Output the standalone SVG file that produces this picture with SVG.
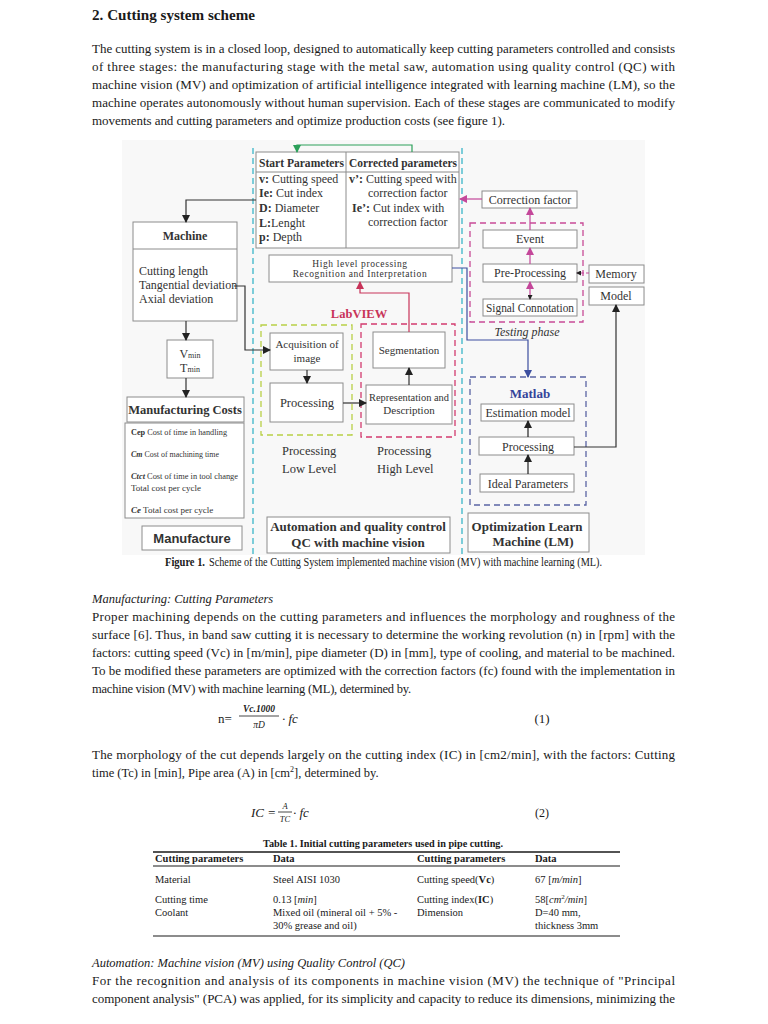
<svg xmlns="http://www.w3.org/2000/svg" width="768" height="1024" viewBox="0 0 768 1024">
<style>
.t{font-family:"Liberation Serif","Times New Roman",serif;font-size:12.5px;fill:#1a1a1a}
.j{font-size:13px}
.b{font-weight:bold}
.i{font-style:italic}
.f{font-family:"Liberation Serif","Times New Roman",serif;font-size:12px;fill:#333}
.fs{font-family:"Liberation Serif","Times New Roman",serif;font-size:11px;fill:#333}
.c{text-anchor:middle}
.box{fill:#fff;stroke:#8c8c8c;stroke-width:1}
.tb{font-family:"Liberation Serif","Times New Roman",serif;font-size:10.5px;fill:#1a1a1a}
.ln{fill:none;stroke-width:1.2}
</style>
<defs>
<marker id="ak" markerWidth="8" markerHeight="8" refX="7" refY="4" orient="auto" markerUnits="userSpaceOnUse"><path d="M0,0 L8,4 L0,8 z" fill="#222"/></marker>
<marker id="am" markerWidth="8" markerHeight="8" refX="7" refY="4" orient="auto" markerUnits="userSpaceOnUse"><path d="M0,0 L8,4 L0,8 z" fill="#c4479a"/></marker>
<marker id="ag" markerWidth="8" markerHeight="8" refX="7" refY="4" orient="auto" markerUnits="userSpaceOnUse"><path d="M0,0 L8,4 L0,8 z" fill="#2ca05a"/></marker>
<marker id="ar" markerWidth="8" markerHeight="8" refX="7" refY="4" orient="auto" markerUnits="userSpaceOnUse"><path d="M0,0 L8,4 L0,8 z" fill="#c8345a"/></marker>
<marker id="ab" markerWidth="8" markerHeight="8" refX="7" refY="4" orient="auto" markerUnits="userSpaceOnUse"><path d="M0,0 L8,4 L0,8 z" fill="#3d4fa0"/></marker>
<marker id="as" markerWidth="5" markerHeight="5" refX="4" refY="2.5" orient="auto-start-reverse" markerUnits="userSpaceOnUse"><path d="M0,0 L5,2.5 L0,5 z" fill="#222"/></marker>
</defs>
<rect width="768" height="1024" fill="#fff"/>

<!-- Heading and first paragraph -->
<text class="t b" x="92" y="20" style="font-size:14px" textLength="163" lengthAdjust="spacingAndGlyphs">2. Cutting system scheme</text>
<text class="t j" x="92" y="53" textLength="583" lengthAdjust="spacing">The cutting system is in a closed loop, designed to automatically keep cutting parameters controlled and consists</text>
<text class="t j" x="92" y="71" textLength="583" lengthAdjust="spacing">of three stages: the manufacturing stage with the metal saw, automation using quality control (QC) with</text>
<text class="t j" x="92" y="89" textLength="583" lengthAdjust="spacing">machine vision (MV) and optimization of artificial intelligence integrated with learning machine (LM), so the</text>
<text class="t j" x="92" y="107" textLength="583" lengthAdjust="spacing">machine operates autonomously without human supervision. Each of these stages are communicated to modify</text>
<text class="t j" x="92" y="125" textLength="413" lengthAdjust="spacing">movements and cutting parameters and optimize production costs (see figure 1).</text>

<!-- Figure background -->
<rect x="122" y="140" width="523" height="415" fill="#f8f8f8"/>

<!-- cyan dashed separators -->
<g stroke="#3ab5c8" stroke-width="1.3" stroke-dasharray="6,4" fill="none">
<line x1="253" y1="148" x2="253" y2="556"/>
<line x1="462" y1="148" x2="462" y2="556"/>
</g>

<!-- dashed group boxes -->
<rect x="261" y="325" width="91" height="110" fill="none" stroke="#b8cf45" stroke-width="1.3" stroke-dasharray="6,4"/>
<rect x="361" y="324" width="94" height="113" fill="none" stroke="#d23a6e" stroke-width="1.3" stroke-dasharray="6,4"/>
<rect x="470" y="223" width="113" height="99" fill="none" stroke="#c74a96" stroke-width="1.3" stroke-dasharray="6,4"/>
<rect x="470" y="377" width="116" height="128" fill="none" stroke="#5a64a4" stroke-width="1.3" stroke-dasharray="6,4"/>

<!-- Nodes -->
<g id="start-parameters">
<rect class="box" x="256" y="152" width="203" height="96"/>
<line x1="256" y1="172" x2="459" y2="172" stroke="#8c8c8c"/>
<line x1="346" y1="152" x2="346" y2="248" stroke="#8c8c8c"/>
<text class="f b" x="259" y="167" textLength="85" lengthAdjust="spacingAndGlyphs">Start Parameters</text>
<text class="f b" x="349" y="167" textLength="108" lengthAdjust="spacingAndGlyphs">Corrected parameters</text>
<text class="f" x="259" y="183"><tspan class="b">v:</tspan> Cutting speed</text>
<text class="f" x="259" y="197"><tspan class="b">Ie:</tspan> Cut index</text>
<text class="f" x="259" y="212"><tspan class="b">D:</tspan> Diameter</text>
<text class="f" x="259" y="227"><tspan class="b">L:</tspan>Lenght</text>
<text class="f" x="259" y="241"><tspan class="b">p:</tspan> Depth</text>
<text class="f" x="349" y="183"><tspan class="b">v’:</tspan> Cutting speed with</text>
<text class="f" x="368" y="197">correction factor</text>
<text class="f" x="352" y="212"><tspan class="b">Ie’:</tspan> Cut index with</text>
<text class="f" x="368" y="226">correction factor</text>
</g>

<g id="machine">
<rect class="box" x="133" y="222" width="104" height="99"/>
<line x1="133" y1="249" x2="237" y2="249" stroke="#8c8c8c"/>
<text class="f b c" x="185" y="240">Machine</text>
<text class="f" x="139" y="275">Cutting length</text>
<text class="f" x="139" y="289">Tangential deviation</text>
<text class="f" x="139" y="303">Axial deviation</text>
</g>

<g id="vmin-tmin">
<rect class="box" x="167" y="340" width="46" height="38"/>
<text class="f c" x="190" y="358">V<tspan style="font-size:8px">min</tspan></text>
<text class="f c" x="190" y="372">T<tspan style="font-size:8px">min</tspan></text>
</g>

<g id="manufacturing-costs">
<rect class="box" x="127" y="397" width="117" height="25"/>
<text class="f b c" x="185" y="414" style="font-size:12.5px">Manufacturing Costs</text>
</g>

<g id="costs-list">
<rect class="box" x="125" y="423" width="119" height="95"/>
<text class="fs" x="131" y="435" style="font-size:9px" textLength="96" lengthAdjust="spacingAndGlyphs"><tspan class="b">Cep</tspan> Cost of time in handling</text>
<text class="fs" x="131" y="457" style="font-size:9px" textLength="88" lengthAdjust="spacingAndGlyphs"><tspan class="b i">Cm</tspan> Cost of machining time</text>
<text class="fs" x="131" y="479" style="font-size:9px" textLength="107" lengthAdjust="spacingAndGlyphs"><tspan class="b i">Ctct</tspan>  Cost of time in tool change</text>
<text class="fs" x="131" y="491" style="font-size:9px">Total cost per cycle</text>
<text class="fs" x="131" y="513" style="font-size:9px"><tspan class="b i">Ce</tspan> Total cost per cycle</text>
</g>

<g id="manufacture">
<rect class="box" x="142" y="526" width="100" height="24"/>
<text class="c" x="192" y="543" style="font-family:'Liberation Sans',Arial,sans-serif;font-size:13px;font-weight:bold;fill:#333">Manufacture</text>
</g>

<g id="automation">
<rect class="box" x="267" y="517" width="183" height="36"/>
<text class="f b c" x="358" y="531" style="font-size:13px">Automation and quality control</text>
<text class="f b c" x="358" y="547" style="font-size:13px">QC with machine vision</text>
</g>

<g id="optimization">
<rect class="box" x="468" y="513" width="121" height="39"/>
<text class="f b c" x="527" y="531" style="font-size:13px">Optimization Learn</text>
<text class="f b c" x="533" y="546" style="font-size:13px">Machine (LM)</text>
</g>

<g id="high-level">
<rect class="box" x="269" y="255" width="183" height="27"/>
<text class="fs c" x="360" y="267" style="font-size:9.5px;letter-spacing:0.6px">High level processing</text>
<text class="fs c" x="360" y="277" style="font-size:9.5px;letter-spacing:0.6px">Recognition and Interpretation</text>
</g>

<text class="c" x="359" y="318" style="font-family:'Liberation Serif','Times New Roman',serif;font-size:12.5px;font-weight:bold;fill:#c8345a">LabVIEW</text>

<g id="acquisition">
<rect class="box" x="270" y="333" width="73" height="37"/>
<text class="fs c" x="307" y="348">Acquisition of</text>
<text class="fs c" x="307" y="362">image</text>
</g>

<g id="processing-low">
<rect class="box" x="270" y="383" width="73" height="39"/>
<text class="f c" x="307" y="407" style="font-size:12.5px">Processing</text>
</g>

<g id="segmentation">
<rect class="box" x="373" y="332" width="72" height="36"/>
<text class="fs c" x="409" y="354">Segmentation</text>
</g>

<g id="representation">
<rect class="box" x="366" y="385" width="86" height="39"/>
<text class="fs c" x="409" y="401" textLength="80" lengthAdjust="spacingAndGlyphs">Representation and</text>
<text class="fs c" x="409" y="414">Description</text>
</g>

<text class="f" x="282" y="455" style="font-size:12.5px">Processing</text>
<text class="f" x="282" y="473" style="font-size:12.5px">Low Level</text>
<text class="f" x="377" y="455" style="font-size:12.5px">Processing</text>
<text class="f" x="377" y="473" style="font-size:12.5px">High Level</text>

<g id="correction-factor">
<rect class="box" x="482" y="191" width="95" height="17"/>
<text class="f c" x="530" y="204">Correction factor</text>
</g>
<g id="event">
<rect class="box" x="483" y="230" width="94" height="18"/>
<text class="f c" x="530" y="243">Event</text>
</g>
<g id="pre-processing">
<rect class="box" x="483" y="264" width="94" height="18"/>
<text class="f c" x="530" y="277">Pre-Processing</text>
</g>
<g id="signal-connotation">
<rect class="box" x="483" y="299" width="94" height="17"/>
<text class="f c" x="530" y="312" textLength="88" lengthAdjust="spacingAndGlyphs">Signal Connotation</text>
</g>
<g id="memory">
<rect class="box" x="589" y="265" width="55" height="18"/>
<text class="f c" x="616" y="278">Memory</text>
</g>
<g id="model">
<rect class="box" x="589" y="287" width="55" height="18"/>
<text class="f c" x="616" y="300">Model</text>
</g>
<text class="f i c" x="527" y="336">Testing phase</text>

<text class="c" x="530" y="398" style="font-family:'Liberation Serif','Times New Roman',serif;font-size:13px;font-weight:bold;fill:#34449a">Matlab</text>
<g id="estimation-model">
<rect class="box" x="481" y="404" width="93" height="17"/>
<text class="f c" x="528" y="417">Estimation model</text>
</g>
<g id="processing-matlab">
<rect class="box" x="479" y="437" width="95" height="18"/>
<text class="f c" x="528" y="451">Processing</text>
</g>
<g id="ideal-parameters">
<rect class="box" x="480" y="474" width="94" height="18"/>
<text class="f c" x="528" y="488">Ideal Parameters</text>
</g>

<!-- Connectors -->
<g id="connectors">
<path class="ln" d="M412,152 V145 H297 V152" stroke="#2ca05a" marker-end="url(#ag)"/>
<path class="ln" d="M256,200 H186 V222" stroke="#333" marker-end="url(#ak)"/>
<path class="ln" d="M234,286 H245 V350 H270" stroke="#333" marker-end="url(#ak)"/>
<path class="ln" d="M186,321 V340" stroke="#333" marker-end="url(#ak)"/>
<path class="ln" d="M186,378 V397" stroke="#333" marker-end="url(#ak)"/>
<path class="ln" d="M307,370 V383" stroke="#333" marker-end="url(#ak)"/>
<path class="ln" d="M343,403 H366" stroke="#333" marker-end="url(#ak)"/>
<path class="ln" d="M409,385 V368" stroke="#333" marker-end="url(#ak)"/>
<path class="ln" d="M409,332 V293 H360 V282" stroke="#c8345a" marker-end="url(#ar)"/>
<path class="ln" d="M482,199 H460" stroke="#c4479a" marker-end="url(#am)"/>
<path class="ln" d="M530,230 V208" stroke="#c4479a" marker-end="url(#am)"/>
<path class="ln" d="M530,264 V248" stroke="#c4479a" marker-end="url(#am)"/>
<path class="ln" d="M530,299 V282" stroke="#c4479a" marker-start="url(#as)" marker-end="url(#am)"/>
<path class="ln" d="M589,273 H577" stroke="#c4479a" stroke-dasharray="3,2" marker-end="url(#as)"/>
<path class="ln" d="M452,268 H467 V340 H528 V377" stroke="#3d4fa0" marker-end="url(#ab)"/>
<path class="ln" d="M528,437 V421" stroke="#222" marker-end="url(#ak)"/>
<path class="ln" d="M528,474 V455" stroke="#222" marker-end="url(#ak)"/>
<path class="ln" d="M574,447 H616 V305" stroke="#333" marker-end="url(#ak)"/>
</g>

<!-- Figure caption -->
<text class="t b" x="165" y="566" style="font-size:11.5px" textLength="40" lengthAdjust="spacingAndGlyphs">Figure 1.</text>
<text class="t" x="209" y="566" style="font-size:11.5px" textLength="393" lengthAdjust="spacingAndGlyphs">Scheme of the Cutting System implemented machine vision (MV) with machine learning (ML).</text>

<!-- Section 1 -->
<text class="t i" x="92" y="603">Manufacturing: Cutting Parameters</text>
<text class="t j" x="92" y="621" textLength="583" lengthAdjust="spacing">Proper machining depends on the cutting parameters and influences the morphology and roughness of the</text>
<text class="t j" x="92" y="639" textLength="583" lengthAdjust="spacing">surface [6]. Thus, in band saw cutting it is necessary to determine the working revolution (n) in [rpm] with the</text>
<text class="t j" x="92" y="657" textLength="583" lengthAdjust="spacing">factors: cutting speed (Vc) in [m/min], pipe diameter (D) in [mm], type of cooling, and material to be machined.</text>
<text class="t j" x="92" y="675" textLength="583" lengthAdjust="spacing">To be modified these parameters are optimized with the correction factors (fc) found with the implementation in</text>
<text class="t" x="92" y="693" textLength="319" lengthAdjust="spacing">machine vision (MV) with machine learning (ML), determined by.</text>

<!-- Formula 1 -->
<text class="t" x="218" y="723" style="font-size:13px">n=</text>
<text class="t b i c" x="259" y="712" style="font-size:9.5px">Vc.1000</text>
<line x1="239" y1="716" x2="279" y2="716" stroke="#1a1a1a" stroke-width="0.8"/>
<text class="t i c" x="259" y="728" style="font-size:9.5px">πD</text>
<text class="t i" x="282" y="723" style="font-size:13px">· fc</text>
<text class="t c" x="542" y="723" style="font-size:13px">(1)</text>

<text class="t j" x="92" y="759" textLength="583" lengthAdjust="spacing">The morphology of the cut depends largely on the cutting index (IC) in [cm2/min], with the factors: Cutting</text>
<text class="t" x="92" y="777">time (Tc) in [min], Pipe area (A) in [cm<tspan dy="-5" style="font-size:8px">2</tspan><tspan dy="5">], determined by.</tspan></text>

<!-- Formula 2 -->
<text class="t i" x="251" y="817" style="font-size:13px">IC =</text>
<text class="t i c" x="285" y="809" style="font-size:8.5px">A</text>
<line x1="278" y1="812" x2="292" y2="812" stroke="#1a1a1a" stroke-width="0.8"/>
<text class="t i c" x="285" y="822" style="font-size:8.5px">TC</text>
<text class="t i" x="293" y="817" style="font-size:13px">· fc</text>
<text class="t c" x="542" y="817" style="font-size:12px">(2)</text>

<!-- Table -->
<text class="tb b" x="263" y="847" textLength="240" lengthAdjust="spacingAndGlyphs">Table 1. Initial cutting parameters used in pipe cutting.</text>
<line x1="153" y1="852" x2="620" y2="852" stroke="#1a1a1a" stroke-width="1.5"/>
<text class="tb b" x="155" y="862">Cutting parameters</text>
<text class="tb b" x="273" y="862">Data</text>
<text class="tb b" x="417" y="862">Cutting parameters</text>
<text class="tb b" x="535" y="862">Data</text>
<line x1="153" y1="866" x2="620" y2="866" stroke="#1a1a1a" stroke-width="1.2"/>
<text class="tb" x="155" y="883">Material</text>
<text class="tb" x="273" y="883">Steel AISI 1030</text>
<text class="tb" x="417" y="883">Cutting speed(<tspan class="b">Vc</tspan>)</text>
<text class="tb" x="535" y="883">67 [<tspan class="i">m/min</tspan>]</text>
<text class="tb" x="155" y="903">Cutting time</text>
<text class="tb" x="273" y="903">0.13 [<tspan class="i">min</tspan>]</text>
<text class="tb" x="417" y="903">Cutting index(<tspan class="b">IC</tspan>)</text>
<text class="tb" x="535" y="903">58[<tspan class="i">cm</tspan><tspan dy="-4" style="font-size:7px">2</tspan><tspan dy="4" class="i">/min</tspan>]</text>
<text class="tb" x="155" y="916">Coolant</text>
<text class="tb" x="273" y="916">Mixed oil (mineral oil + 5% -</text>
<text class="tb" x="417" y="916">Dimension</text>
<text class="tb" x="535" y="916">D=40 mm,</text>
<text class="tb" x="273" y="929">30% grease and oil)</text>
<text class="tb" x="535" y="929">thickness 3mm</text>
<line x1="153" y1="936" x2="620" y2="936" stroke="#1a1a1a" stroke-width="1.2"/>

<!-- Section 2 -->
<text class="t i" x="92" y="967">Automation: Machine vision (MV) using Quality Control (QC)</text>
<text class="t j" x="92" y="985" textLength="583" lengthAdjust="spacing">For the recognition and analysis of its components in machine vision (MV) the technique of "Principal</text>
<text class="t j" x="92" y="1003" textLength="583" lengthAdjust="spacing">component analysis" (PCA) was applied, for its simplicity and capacity to reduce its dimensions, minimizing the</text>
</svg>
